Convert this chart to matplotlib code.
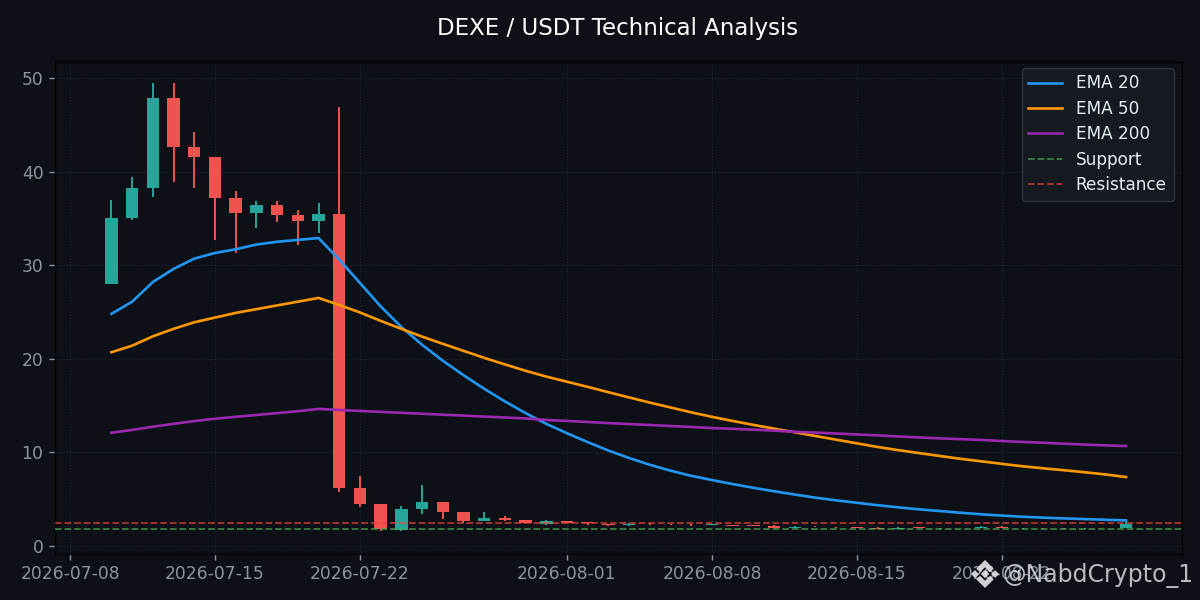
import matplotlib
matplotlib.use('Agg')

import numpy as np
import pandas as pd
import matplotlib.pyplot as plt
import matplotlib.dates as mdates
from matplotlib.patches import Polygon

dates = pd.date_range('2026-07-10', periods=50, freq='D')

opens = [28.0, 35.0, 38.2, 47.9, 42.6, 41.5, 37.2, 35.6, 36.4, 35.4,
         34.7, 35.5, 6.2, 4.5, 1.75, 4.0, 4.7, 3.6, 2.7, 3.0,
         2.8, 2.4, 2.7, 2.6, 2.38, 2.3, 2.36, 2.28, 2.26, 2.3,
         2.2, 2.2, 2.12, 1.95, 2.1, 2.0, 2.02, 1.9, 1.8, 2.0,
         1.85, 1.9, 1.95, 2.04, 1.85, 1.86, 1.86, 1.84, 1.85, 1.95]
closes = [35.0, 38.2, 47.9, 42.6, 41.5, 37.2, 35.6, 36.4, 35.4, 34.7,
          35.5, 6.2, 4.5, 1.8, 4.0, 4.7, 3.6, 2.7, 3.0, 2.8,
          2.45, 2.7, 2.45, 2.45, 2.28, 2.31, 2.35, 2.27, 2.25, 2.31,
          2.12, 2.14, 1.95, 2.03, 2.09, 1.99, 1.95, 1.85, 1.95, 1.95,
          1.86, 1.9, 2.03, 1.94, 1.86, 1.85, 1.85, 1.85, 1.85, 2.35]
highs = [37.0, 39.4, 49.5, 49.5, 44.2, 41.6, 37.9, 36.9, 36.9, 35.9,
         36.6, 46.9, 7.5, 4.5, 4.3, 6.5, 4.7, 3.6, 3.6, 3.2,
         2.8, 2.8, 2.7, 2.6, 2.38, 2.45, 2.5, 2.35, 2.35, 2.35,
         2.12, 2.14, 2.24, 2.14, 2.14, 2.05, 2.02, 2.03, 2.0, 2.0,
         1.95, 1.9, 2.14, 2.14, 1.92, 1.92, 1.92, 1.92, 1.85, 2.7]
lows = [28.0, 34.8, 37.3, 38.9, 38.2, 32.7, 31.3, 34.0, 34.6, 32.2,
        33.4, 5.8, 4.2, 1.6, 1.6, 3.4, 2.9, 2.45, 2.7, 2.7,
        2.45, 2.25, 2.45, 2.25, 2.15, 2.15, 2.25, 2.24, 2.15, 2.24,
        2.12, 2.14, 1.95, 1.92, 2.03, 1.92, 1.92, 1.85, 1.78, 1.92,
        1.78, 1.9, 1.92, 1.92, 1.8, 1.8, 1.8, 1.8, 1.85, 1.95]

ema20 = [24.8, 26.1, 28.2, 29.6, 30.7, 31.3, 31.7, 32.2, 32.5, 32.7,
         32.9, 30.6, 28.1, 25.6, 23.4, 21.5, 19.8, 18.25, 16.8, 15.45,
         14.2, 13.05, 12.05, 11.1, 10.2, 9.4, 8.68, 8.05, 7.5, 7.05,
         6.62, 6.22, 5.85, 5.5, 5.17, 4.88, 4.62, 4.36, 4.13, 3.92,
         3.74, 3.56, 3.39, 3.25, 3.13, 3.03, 2.95, 2.88, 2.81, 2.74]
ema50 = [20.7, 21.4, 22.4, 23.2, 23.9, 24.4, 24.9, 25.3, 25.7, 26.1,
         26.5, 25.75, 24.95, 24.05, 23.2, 22.37, 21.6, 20.85, 20.1, 19.4,
         18.72, 18.1, 17.55, 17.0, 16.43, 15.87, 15.32, 14.8, 14.28, 13.8,
         13.36, 12.94, 12.54, 12.15, 11.75, 11.36, 10.97, 10.58, 10.24, 9.93,
         9.62, 9.32, 9.05, 8.78, 8.52, 8.3, 8.1, 7.88, 7.65, 7.37]
ema200 = [12.1, 12.4, 12.75, 13.05, 13.35, 13.6, 13.8, 14.0, 14.2, 14.4,
          14.65, 14.53, 14.43, 14.33, 14.23, 14.13, 14.03, 13.93, 13.83, 13.73,
          13.63, 13.47, 13.36, 13.25, 13.13, 13.03, 12.93, 12.82, 12.72, 12.6,
          12.52, 12.43, 12.33, 12.2, 12.12, 12.02, 11.92, 11.82, 11.7, 11.6,
          11.5, 11.42, 11.33, 11.22, 11.12, 11.03, 10.93, 10.84, 10.75, 10.68]

support = 1.82
resistance = 2.49

tick_dates = ['2026-07-08', '2026-07-15', '2026-07-22', '2026-08-01',
              '2026-08-08', '2026-08-15', '2026-08-22']
y_ticks = [0, 10, 20, 30, 40, 50]

bg = '#0d1117'
up = '#26a69a'
down = '#ef5350'
muted = '#8b949e'

fig = plt.figure(figsize=(12, 6), dpi=100, facecolor=bg)
ax = fig.add_axes([54.5/1200, 1-554/600, (1182-54.5)/1200, (554-62)/600], facecolor=bg)

x = mdates.date2num(dates)
colors = [up if c >= o else down for o, c in zip(opens, closes)]

ax.vlines(x, lows, highs, colors=colors, lw=1.4, zorder=2)
ax.bar(x, np.abs(np.array(closes) - np.array(opens)), bottom=np.minimum(opens, closes),
       width=0.6, color=colors, zorder=3)

ax.plot(x, ema20, color='#2196f3', lw=1.9, label='EMA 20', zorder=4)
ax.plot(x, ema50, color='#ff9800', lw=1.9, label='EMA 50', zorder=4)
ax.plot(x, ema200, color='#9c27b0', lw=1.9, label='EMA 200', zorder=4)
ax.axhline(support, color='#4caf50', ls='--', lw=1.3, alpha=0.7, label='Support', zorder=3)
ax.axhline(resistance, color='#f44336', ls='--', lw=1.3, alpha=0.7, label='Resistance', zorder=3)

t0 = mdates.date2num(pd.Timestamp('2026-07-08'))
ax.set_xlim(t0 - 0.75, t0 + 53.7)
ax.set_ylim(-0.85, 51.7)
ax.set_xticks(mdates.date2num(pd.to_datetime(tick_dates)))
ax.set_xticklabels(tick_dates)
ax.set_yticks(y_ticks)
ax.tick_params(colors=muted, labelsize=12.3, length=4, width=1, pad=4, color=muted)
ax.grid(True, color='#30363d', ls=':', lw=0.8, alpha=0.6, zorder=0)
ax.set_axisbelow(True)
for s in ax.spines.values():
    s.set_color('#000000')
    s.set_linewidth(1)

leg = ax.legend(loc='upper right', fontsize=12.2, facecolor='#161b22', edgecolor='#30363d',
                labelcolor='#e6edf3', framealpha=0.95, labelspacing=0.44,
                bbox_to_anchor=(0.9925, 0.9885), borderaxespad=0)

fig.text(618/1200, 1-28/600, 'DEXE / USDT Technical Analysis', color='white', fontsize=16.5,
         ha='center', va='center')

# watermark, binance diamond then handle
wm = '#e4e6e8'
cx, cy, u = 985, 574, 14
def logo_part(pts):
    fig.add_artist(Polygon([((cx + px*u)/1200, 1-(cy + py*u)/600) for px, py in pts],
                           closed=True, transform=fig.transFigure, facecolor=wm,
                           edgecolor='none', alpha=0.9, zorder=10))
logo_part([(0, -0.3), (0.3, 0), (0, 0.3), (-0.3, 0)])
logo_part([(-1, -0.0), (-0.72, -0.28), (-0.44, 0), (-0.72, 0.28)])
logo_part([(1, 0), (0.72, -0.28), (0.44, 0), (0.72, 0.28)])
logo_part([(0, -1), (0.62, -0.38), (0.36, -0.12), (0, -0.48), (-0.36, -0.12), (-0.62, -0.38)])
logo_part([(0, 1), (0.62, 0.38), (0.36, 0.12), (0, 0.48), (-0.36, 0.12), (-0.62, 0.38)])
fig.text(1003/1200, 1-575/600, '@NabdCrypto_1', color=wm, alpha=0.8, fontsize=17,
         ha='left', va='center', zorder=10)

plt.savefig('out.png', dpi=100, facecolor=bg)
